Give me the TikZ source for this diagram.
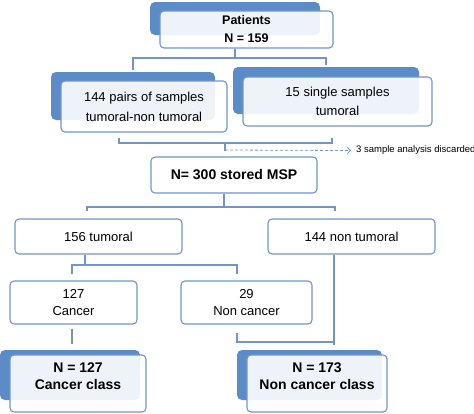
\documentclass[tikz,border=0pt]{standalone}
\usepackage{fontspec}
\setmainfont{Liberation Sans}
\usepackage{tikz}
\usetikzlibrary{arrows.meta}
\definecolor{lineblue}{HTML}{6F96C9}
\definecolor{backblue}{HTML}{5B8CC8}

\begin{document}
\begin{tikzpicture}[x=1pt,y=-1pt,
    txt/.style={font=\fontsize{13}{18}\selectfont},
    boldtxt/.style={font=\fontsize{14}{17}\selectfont\bfseries,align=center},
    box/.style={draw=lineblue,line width=1.1pt,rounded corners=4pt,fill=white,
                align=center,txt,inner sep=0pt},
    backbox/.style={fill=backblue,rounded corners=5pt,inner sep=0pt},
    frontbox/.style={box,fill opacity=0.9,text opacity=1},
    link/.style={draw=lineblue,line width=1.1pt},
    note/.style={font=\fontsize{9.5}{11}\selectfont,inner sep=0pt}]
  \useasboundingbox (0,0) rectangle (474,413);

  % shaded boxes behind
  \node[backbox,minimum width=170pt,minimum height=33pt] (pat-bk) at (235,18.5) {};
  \node[backbox,minimum width=164pt,minimum height=48pt] (pairs-bk) at (133,96) {};
  \node[backbox,minimum width=186pt,minimum height=47pt] (single-bk) at (326,90.5) {};
  \node[backbox,minimum width=140pt,minimum height=50pt] (ccls-bk) at (70,375) {};
  \node[backbox,minimum width=145pt,minimum height=50pt] (nccls-bk) at (309.5,375) {};

  % boxes
  \node[frontbox,boldtxt,font=\fontsize{12.5}{18}\selectfont\bfseries,
        minimum width=173pt,minimum height=37pt] (pat) at (246.5,29.5)
    {Patients\\N = 159};
  \node[frontbox,font=\fontsize{13}{20}\selectfont,
        minimum width=166pt,minimum height=51pt] (pairs) at (144,106.5)
    {144 pairs of samples\\tumoral-non tumoral};
  \node[frontbox,font=\fontsize{13}{19}\selectfont,
        minimum width=189pt,minimum height=49pt] (single) at (337.5,101.5)
    {15 single samples\\tumoral};
  \node[box,font=\fontsize{14}{17}\selectfont\bfseries,
        minimum width=166pt,minimum height=36pt] (msp) at (234,175)
    {N= 300 stored MSP};
  \node[box,minimum width=167pt,minimum height=35pt] (tum) at (98.5,236.5) {156 tumoral};
  \node[box,minimum width=167pt,minimum height=35pt] (ntum) at (351.5,236.5) {144 non tumoral};
  \node[box,font=\fontsize{13}{17}\selectfont,
        minimum width=127pt,minimum height=43pt] (canc) at (73.5,302.5) {127\\Cancer};
  \node[box,font=\fontsize{13}{17}\selectfont,
        minimum width=131pt,minimum height=43pt] (ncan) at (246.5,302.5) {29\\Non cancer};
  \node[frontbox,minimum width=136pt,minimum height=57pt,
        label={[boldtxt,yshift=7pt]center:{N = 127\\Cancer class}}] (ccls) at (78,383.5) {};
  \node[frontbox,minimum width=140pt,minimum height=57pt,
        label={[boldtxt,yshift=7pt]center:{N = 173\\Non cancer class}}] (nccls) at (317,383.5) {};
  \node[note,anchor=west] (discard) at (356,150.5) {3 sample analysis discarded};

  % connectors
  \coordinate (fork1) at (235,58);
  \coordinate (fork2) at (225,143);
  \coordinate (cut) at (225,150);
  \coordinate (fork3) at (224,207);
  \coordinate (fork4) at (85,265);
  \coordinate (join5) at (334,342);
  \coordinate (drop) at (334,345);

  \draw[link] (pat-bk.south |- pat.south) -- (fork1);
  \draw[link] ([yshift=2pt]pairs-bk.north) |- (fork1) -| ([yshift=2pt]single-bk.north);
  \draw[link] ([xshift=-25pt,yshift=-5pt]pairs.south) |- (fork2)
    -| ([xshift=-5.5pt,yshift=-11pt]single.south);
  \draw[link] (fork2) -- ([yshift=5pt]msp.north -| fork2);
  \draw[link,line width=0.8pt,dash pattern=on 3pt off 2pt,
        -{Straight Barb[length=3pt,width=6pt]}] (cut) -- ([xshift=-5pt]discard.west);
  \draw[link] (msp.south -| fork3) -- (fork3);
  \draw[link] ([xshift=-11.5pt,yshift=7pt]tum.north) |- (fork3)
    -| ([xshift=-16.5pt,yshift=7pt]ntum.north);
  \draw[link] (tum.south -| fork4) -- (fork4);
  \draw[link] ([xshift=-1.5pt,yshift=6pt]canc.north) |- (fork4)
    -| ([xshift=-9.5pt,yshift=6pt]ncan.north);
  \draw[link] ([xshift=-1.5pt,yshift=-4pt]canc.south) -- ([xshift=2pt,yshift=6pt]ccls-bk.north);
  \draw[link] ([xshift=-9.5pt,yshift=-8pt]ncan.south) |- (join5);
  \draw[link] (ntum.south -| join5) -- (drop);
\end{tikzpicture}
\end{document}
